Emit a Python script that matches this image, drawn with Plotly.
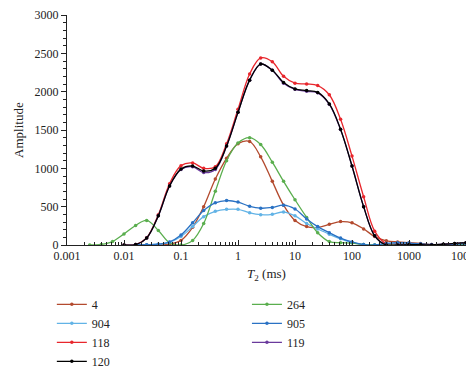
import plotly.graph_objects as go

N = None
# T2 grid (ms)
t2 = [0.0025, 0.004, 0.0063, 0.01, 0.016, 0.025, 0.04, 0.063, 0.1, 0.16, 0.25, 0.4,
      0.63, 1.0, 1.6, 2.5, 4.0, 6.3, 10, 16, 25, 40, 63, 100, 160, 250, 400, 630,
      1000, 1600, 2500, 4000, 6300, 10000]

s4 = [N, N, N, N, 0, 0, 0, 10, 60, 230, 500, 860, 1130, 1320, 1350, 1150, 830, 520,
      320, 240, 230, 270, 305, 290, 210, 110, 55, 40, 30, 20, 5, 0, 0, 0]
s904 = [N, N, N, N, 0, 2, 10, 35, 110, 240, 370, 440, 465, 465, 420, 395, 400, 430,
        380, 280, 210, 140, 80, 35, 5, 0, 15, 20, 20, 10, 0, 0, 5, 10]
s118 = [N, N, N, 0, 5, 95, 395, 800, 1035, 1070, 1000, 1020, 1320, 1770, 2230, 2440,
        2390, 2200, 2110, 2100, 2080, 1960, 1640, 1160, 630, 180, 15, 10, 5, 0, 0, 5, 15, 25]
s120 = [N, N, N, 0, 5, 90, 380, 770, 990, 1030, 965, 1000, 1290, 1730, 2150, 2360,
        2280, 2120, 2035, 2015, 1990, 1840, 1510, 1030, 500, 120, 0, 0, 5, 5, 0, 10, 20, 30]
s264 = [0, 8, 45, 145, 255, 320, 190, 30, 0, 60, 280, 700, 1100, 1330, 1400, 1310,
        1080, 830, 590, 360, 160, 45, 30, 25, 5, 0, 0, 0, 0, 0, 0, 0, 0, 0]
s905 = [N, N, N, N, 0, 3, 10, 40, 130, 290, 450, 550, 580, 560, 505, 480, 490, 520,
        470, 340, 240, 160, 90, 40, 5, 0, 20, 30, 25, 15, 5, 0, 10, 20]
s119 = [N, N, N, 0, 5, 90, 380, 770, 985, 1020, 945, 985, 1290, 1730, 2150, 2360,
        2280, 2110, 2030, 2005, 1985, 1835, 1505, 1030, 500, 120, 0, 0, 5, 5, 0, 10, 20, 30]

x_ticks = [0.001, 0.01, 0.1, 1, 10, 100, 1000, 10000]
x_tick_labels = ["0.001", "0.01", "0.1", "1", "10", "100", "1000", "10000"]

# (name, values, colour, legend column)
series = [
    ("4", s4, "#b34a2e", "legend"),
    ("904", s904, "#62b3e6", "legend"),
    ("118", s118, "#e8262c", "legend"),
    ("264", s264, "#5aae4e", "legend2"),
    ("905", s905, "#2a72c4", "legend2"),
    ("119", s119, "#6a3a9c", "legend2"),
    ("120", s120, "#000000", "legend"),
]

fig = go.Figure()
for name, ys, col, leg in series:
    fig.add_trace(go.Scatter(
        x=t2, y=ys, name=name, mode="lines+markers",
        line=dict(color=col, width=1.3, shape="spline", smoothing=1.0),
        marker=dict(color=col, size=3.5),
        connectgaps=False, legend=leg,
    ))

font = "Liberation Serif, Times New Roman, serif"
leg_common = dict(
    orientation="v", yanchor="top", xanchor="left",
    font=dict(family=font, size=12, color="#222"),
    tracegroupgap=0, itemwidth=30, bgcolor="rgba(0,0,0,0)",
)
fig.update_layout(
    width=474, height=369,
    margin=dict(l=59, r=16, t=7, b=132, autoexpand=False),
    paper_bgcolor="white", plot_bgcolor="white",
    font=dict(family=font, size=12, color="#222"),
    showlegend=True,
    legend=dict(x=-0.038, y=-0.195, **leg_common),
    legend2=dict(x=0.451, y=-0.195, **leg_common),
    xaxis=dict(
        type="log", range=[-3, 4],
        tickvals=x_ticks, ticktext=x_tick_labels,
        showline=True, linecolor="#222", linewidth=1,
        ticks="inside", ticklen=5, tickcolor="#222",
        minor=dict(ticks="inside", ticklen=3, tickcolor="#222", dtick="D1"),
        showgrid=False, zeroline=False,
        title=dict(text="<i>T</i><sub>2</sub> (ms)", standoff=6,
                   font=dict(family=font, size=13)),
    ),
    yaxis=dict(
        range=[0, 3000], dtick=500,
        showline=True, linecolor="#222", linewidth=1,
        ticks="outside", ticklen=5, tickcolor="#222",
        minor=dict(ticks="outside", ticklen=3, tickcolor="#222", dtick=100),
        showgrid=False, zeroline=False,
    ),
    annotations=[dict(
        text="Amplitude", textangle=-90, xref="paper", yref="paper",
        x=-0.123, y=0.5, xanchor="center", yanchor="middle", showarrow=False,
        font=dict(family=font, size=13, color="#222"),
    )],
)

fig.write_html("out.html")
